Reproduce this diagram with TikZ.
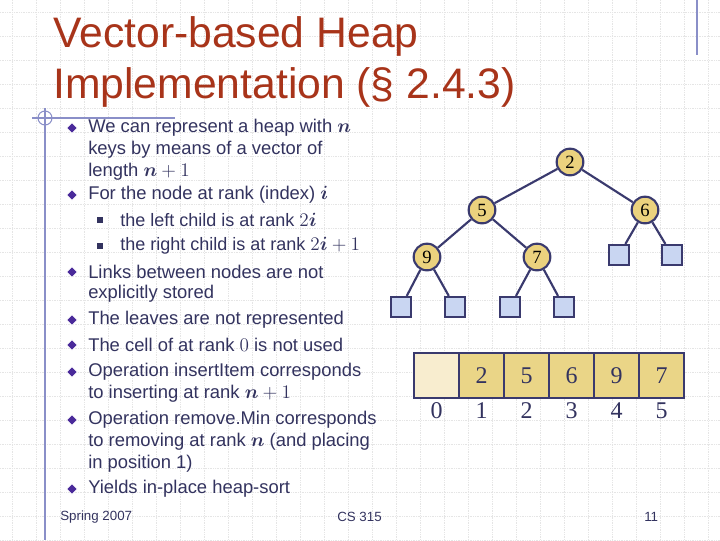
\documentclass[tikz,border=0pt]{standalone}
\usepackage{amsmath}
\usepackage{bm}
\usepackage{fontspec}
\setmainfont{Liberation Sans}
\newfontfamily\serifnum{Liberation Serif}
\usetikzlibrary{shapes.geometric}
\definecolor{ttl}{HTML}{A8341A}
\definecolor{bod}{HTML}{33335F}
\definecolor{edg}{HTML}{3A3A6E}
\definecolor{nodey}{HTML}{EBD27E}
\definecolor{leafb}{HTML}{C9D6F2}
\definecolor{cell}{HTML}{EAD587}
\definecolor{cell0}{HTML}{F8EDCF}
\definecolor{bul}{HTML}{4A2A9A}
\definecolor{deco}{HTML}{8A8FC8}
\begin{document}
\begin{tikzpicture}[x=0.75pt,y=-0.75pt,
  txt/.style={anchor=west,text=bod,font=\fontsize{13.8}{15}\selectfont,inner sep=0pt},
  dia/.style={diamond,fill=bul,draw=white,inner sep=0pt,minimum size=8pt},
  sq/.style={rectangle,fill=bod,inner sep=0pt,minimum size=4pt},
  hn/.style={circle,draw=edg,line width=1.6pt,fill=nodey,minimum size=20pt,inner sep=0pt,font=\fontsize{14}{14}\selectfont\serifnum},
  lf/.style={rectangle,draw=edg,line width=1.6pt,fill=leafb,minimum size=15pt,inner sep=0pt},
  ed/.style={draw=edg,line width=1.6pt},
  ce/.style={rectangle,draw=edg,line width=1.8pt,minimum width=45*0.75pt,minimum height=45*0.75pt,inner sep=0pt,font=\fontsize{18}{18}\selectfont\serifnum,text=bod},
  ix/.style={text=bod,font=\fontsize{18}{18}\selectfont\serifnum,inner sep=0pt},
  ft/.style={anchor=west,text=bod,font=\fontsize{10}{10}\selectfont,inner sep=0pt}]
\useasboundingbox (0,0) rectangle (720,540);
\fill[white] (0,0) rectangle (720,540);
\foreach \g in {12,36,...,720} \draw[black!10,densely dotted,line width=0.3pt] (\g,0) -- (\g,540);
\foreach \g in {12,36,...,540} \draw[black!10,densely dotted,line width=0.3pt] (0,\g) -- (720,\g);
% decorations
\draw[deco,line width=0.8pt] (45,108) -- (45,540);
\draw[deco,line width=0.8pt] (32,118) -- (175,118);
\draw[deco,line width=0.8pt] (45,118) circle (7);
\draw[deco,line width=0.8pt] (697,0) -- (697,55);
% title
\node[anchor=west,text=ttl,font=\fontsize{32}{32}\selectfont,inner sep=0pt] (t1) at (53,36) {Vector-based Heap};
\node[anchor=west,text=ttl,font=\fontsize{32}{32}\selectfont,inner sep=0pt] (t2) at (53,87) {Implementation (§ 2.4.3)};
% bullets
\foreach \y in {128,195,272,320,345,372,420,489} \node[dia] at (72,\y) {};
\foreach \y in {220,246} \node[sq] at (100,\y) {};
\node[txt] (l1) at (88,128) {We can represent a heap with $\bm{n}$};
\node[txt] (l2) at (88,150) {keys by means of a vector of};
\node[txt] (l3) at (88,172) {length $\bm{n}+1$};
\node[txt] (l4) at (88,195) {For the node at rank (index) $\bm{i}$};
\node[txt,font=\fontsize{13.5}{14}\selectfont] (l5) at (120,220) {the left child is at rank $2\bm{i}$};
\node[txt,font=\fontsize{13.5}{14}\selectfont] (l6) at (120,246) {the right child is at rank $2\bm{i}+1$};
\node[txt] (l7) at (88,272) {Links between nodes are not};
\node[txt] (l8) at (88,294) {explicitly stored};
\node[txt] (l9) at (88,320) {The leaves are not represented};
\node[txt] (l10) at (88,345) {The cell of at rank $0$ is not used};
\node[txt] (l11) at (88,372) {Operation insertItem corresponds};
\node[txt] (l12) at (88,394) {to inserting at rank $\bm{n}+1$};
\node[txt] (l13) at (88,420) {Operation remove.Min corresponds};
\node[txt] (l14) at (88,442) {to removing at rank $\bm{n}$ (and placing};
\node[txt] (l15) at (88,464) {in position 1)};
\node[txt] (l16) at (88,489) {Yields in-place heap-sort};
% footer
\node[ft] (f1) at (60,517) {Spring 2007};
\node[ft] (f2) at (337,517) {CS 315};
\node[ft] (f3) at (644,517) {11};
% tree
\node[hn] (n2) at (570,162) {2};
\node[hn] (n5) at (482,210) {5};
\node[hn] (n6) at (645,210) {6};
\node[hn] (n9) at (427,257) {9};
\node[hn] (n7) at (537,257) {7};
\node[lf] (a) at (619,255) {};
\node[lf] (b) at (672,255) {};
\node[lf] (c) at (401,307) {};
\node[lf] (d) at (455,307) {};
\node[lf] (e) at (510,307) {};
\node[lf] (f) at (564,307) {};
\draw[ed] (n2)--(n5) (n2)--(n6) (n5)--(n9) (n5)--(n7) (n6)--(a) (n6)--(b)
  (n9)--(c) (n9)--(d) (n7)--(e) (n7)--(f);
% array
\node[ce,fill=cell0] (c0) at (436.5,375.5) {};
\node[ce,fill=cell] (c1) at (481.5,375.5) {2};
\node[ce,fill=cell] (c2) at (526.5,375.5) {5};
\node[ce,fill=cell] (c3) at (571.5,375.5) {6};
\node[ce,fill=cell] (c4) at (616.5,375.5) {9};
\node[ce,fill=cell] (c5) at (661.5,375.5) {7};
\foreach \k in {0,...,5} \node[ix] (i\k) at (436.5+45*\k,411) {\k};
\end{tikzpicture}
\end{document}
